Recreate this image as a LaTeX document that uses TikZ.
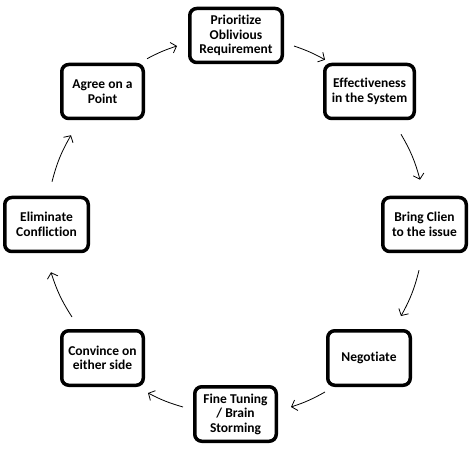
\documentclass[tikz,border=0pt]{standalone}
\usepackage{fontspec}
\setmainfont[Ligatures={NoCommon}]{Carlito}
\usetikzlibrary{arrows.meta,shadows}
\begin{document}
\begin{tikzpicture}[x=1pt,y=-1pt,
  box/.style={draw, line width=3.5pt, rounded corners=7pt, fill=white,
    align=center, inner sep=0pt, minimum height=54pt,
    font=\bfseries\fontsize{13.5}{14.5}\selectfont,
    drop shadow={shadow xshift=1.2pt, shadow yshift=-1.2pt, opacity=0.25}},
  conn/.style={-{Straight Barb[length=5pt,width=11pt]}, line width=0.8pt}]
\useasboundingbox (0,0) rectangle (474,449);
\fill[white] (0,0) rectangle (474,449);
\node[box, minimum width=92.5pt] (prio) at (236,35.5) {Prioritize\\Oblivious\\Requirement};
\node[box, minimum width=81.5pt] (agree) at (102.5,91.5) {Agree on a\\Point};
\node[box, minimum width=89.5pt] (eff) at (369.5,91.5) {Effectiveness\\in the System};
\node[box, minimum width=83.5pt] (elim) at (46.5,224.5) {Eliminate\\Confliction};
\node[box, minimum width=83.5pt] (bring) at (424.5,224.5) {Bring Clien\\to the issue};
\node[box, minimum width=81.5pt, minimum height=54.5pt] (conv) at (102.5,358) {Convince on\\either side};
\node[box, minimum width=82.5pt, minimum height=54.5pt] (neg) at (369,358) {Negotiate};
\node[box, minimum width=81.5pt, minimum height=54.5pt] (fine) at (235.5,414) {Fine Tuning\\/ Brain\\Storming};

\draw[conn] ([shift={(2,-4)}]agree.north east) to[bend left=5] ([shift={(-11,10.5)}]prio.west);
\draw[conn] ([shift={(10,10.5)}]prio.east) to[bend left=5] ([shift={(2,-3)}]eff.north west);
\draw[conn] ([shift={(-15,14)}]eff.south east) to[bend left=7.6] ([shift={(-4.5,-16)}]bring.north);
\draw[conn] ([shift={(-5.5,17)}]bring.south) to[bend left=7.5] ([shift={(-11,-13)}]neg.north east);
\draw[conn] ([shift={(-1,5)}]neg.south west) to[bend left=5.6] ([shift={(13,-7)}]fine.east);
\draw[conn] ([shift={(-10,-7)}]fine.west) to[bend left=5.7] ([shift={(3,6)}]conv.south east);
\draw[conn] ([shift={(12,-12)}]conv.north west) to[bend left=7.5] ([shift={(4.5,19)}]elim.south);
\draw[conn] ([shift={(5.5,-14)}]elim.north) to[bend left=7.7] ([shift={(11,15)}]agree.south west);
\end{tikzpicture}
\end{document}
